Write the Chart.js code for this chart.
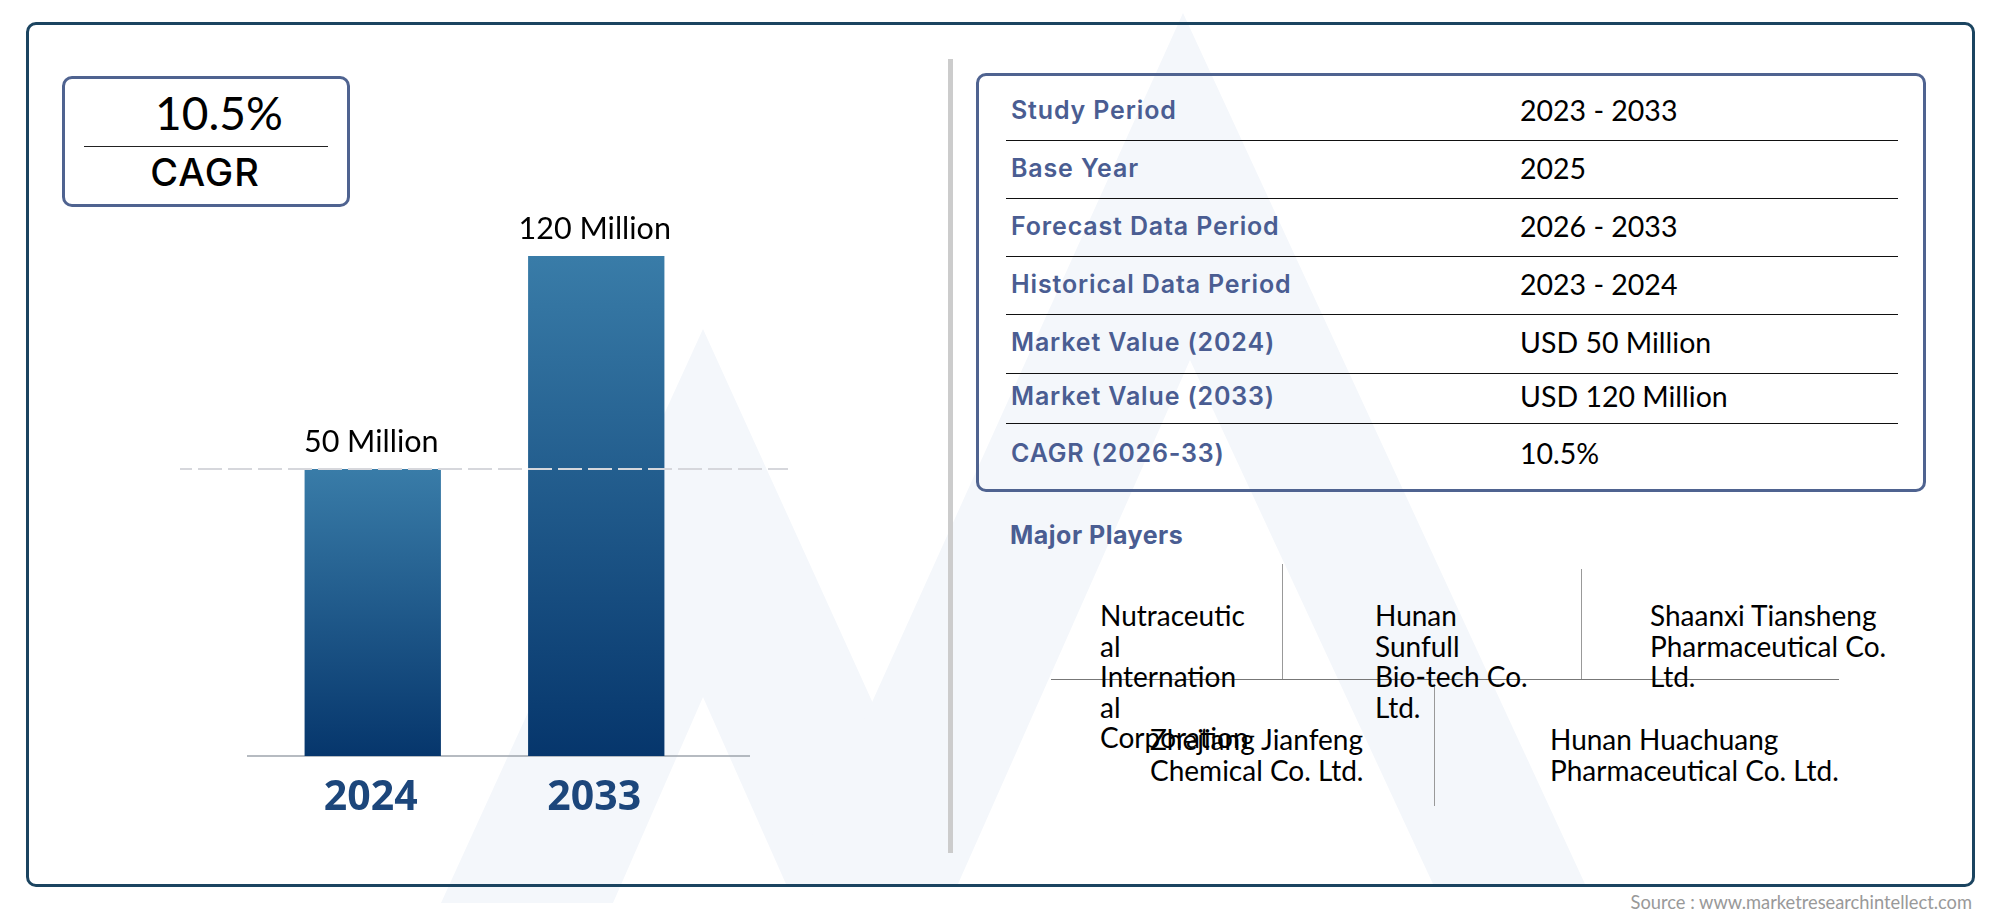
<!DOCTYPE html>
<html>
<head>
<meta charset="utf-8">
<title>Market size</title>
<script src="https://cdn.jsdelivr.net/npm/chart.js@4"></script>
<style>
  html, body { margin: 0; padding: 0; width: 2000px; height: 917px; background: #fff; overflow: hidden; }
  body { position: relative; font-family: Lato, sans-serif; color: #000; }
  .abs { position: absolute; }
  #wm { left: 0; top: 0; }
  #frame { left: 26px; top: 22px; width: 1943px; height: 859px; border: 3px solid #1b4460; border-radius: 10px; }
  #cagrBox { left: 62px; top: 76px; width: 282px; height: 125px; border: 3px solid #4f6390; border-radius: 10px; }
  #cagrValue { left: 62px; width: 314px; top: 82px; text-align: center; font-size: 46px; line-height: 62px; }
  #cagrRule { left: 84px; top: 146px; width: 244px; height: 1px; background: #222; }
  #cagrLabel { left: 62px; width: 286px; top: 149px; text-align: center; font-family: Inter, sans-serif; font-weight: 500; font-size: 38px; letter-spacing: 1px; line-height: 46px; }
  #chartWrap { left: 150px; top: 180px; width: 700px; height: 646px; }
  #sep { left: 948px; top: 59px; width: 5px; height: 794px; background: #cccccc; }
  #tableBox { left: 976px; top: 73px; width: 944px; height: 413px; border: 3px solid #4f6390; border-radius: 10px; }
  #rows { left: 1006px; top: 83px; width: 892px; display: grid; grid-template-rows: 58px 58px 58px 58px 58.5px 50.5px 62px; }
  .row { display: flex; align-items: center; border-bottom: 1px solid #111; box-sizing: border-box; }
  .row:last-child { border-bottom: none; }
  .row .k { width: 514px; padding-left: 5px; box-sizing: border-box; font-family: Inter, sans-serif; font-weight: 600; font-size: 25px; letter-spacing: 0.85px; color: #4a5d92; position: relative; top: -2px; }
  .row .v { font-size: 28.5px; position: relative; top: -2px; }
  #playersTitle { left: 1010px; top: 519px; font-family: Inter, sans-serif; font-weight: 700; font-size: 25px; letter-spacing: 0.5px; line-height: 32px; color: #4a5d92; }
  .hline { height: 1px; background: #777; }
  .vline { width: 1px; background: #999; }
  .player { font-size: 28px; line-height: 30.6px; white-space: pre-line; }
  #source { right: 28px; top: 890px; font-size: 18.3px; line-height: 24px; color: #999; }
</style>
</head>
<body>
<svg id="wm" class="abs" width="2000" height="917">
  <path fill="#f4f7fb" d="M703 329 L441 903 L613 903 L703 697 L786 884 L955 884 Z"/>
  <path fill="#f4f7fb" d="M1183 13 L790 884 L958 884 L1190 360 L1433 884 L1585 884 Z"/>
</svg>
<div id="frame" class="abs"></div>
<div id="cagrBox" class="abs"></div>
<div id="cagrValue" class="abs"></div>
<div id="cagrRule" class="abs"></div>
<div id="cagrLabel" class="abs"></div>
<div id="chartWrap" class="abs"><canvas id="marketChart"></canvas></div>
<div id="sep" class="abs"></div>
<div id="tableBox" class="abs"></div>
<div id="rows" class="abs"></div>
<div id="playersTitle" class="abs"></div>
<div class="abs hline" style="left:1051px;top:679px;width:788px"></div>
<div class="abs vline" style="left:1282px;top:564px;height:115px"></div>
<div class="abs vline" style="left:1581px;top:569px;height:110px"></div>
<div class="abs vline" style="left:1434px;top:685px;height:121px"></div>
<div class="abs player" id="p0" style="left:1100px;top:600px"></div>
<div class="abs player" id="p1" style="left:1375px;top:600px"></div>
<div class="abs player" id="p2" style="left:1650px;top:600px"></div>
<div class="abs player" id="p3" style="left:1150px;top:724px"></div>
<div class="abs player" id="p4" style="left:1550px;top:724px"></div>
<div id="source" class="abs"></div>

<script>
// Data
const years = ['2024', '2033'];
const marketValues = [50, 120];
const valueLabels = ['50 Million', '120 Million'];
const cagrValue = '10.5%';
const cagrLabel = 'CAGR';
const rowNames = ['Study Period', 'Base Year', 'Forecast Data Period', 'Historical Data Period', 'Market Value (2024)', 'Market Value (2033)', 'CAGR (2026-33)'];
const rowValues = ['2023 - 2033', '2025', '2026 - 2033', '2023 - 2024', 'USD 50 Million', 'USD 120 Million', '10.5%'];
const playersTitle = 'Major Players';
const players = [
  'Nutraceutic\nal\nInternation\nal\nCorporation',
  'Hunan\nSunfull\nBio-tech Co.\nLtd.',
  'Shaanxi Tiansheng\nPharmaceutical Co.\nLtd.',
  'Zhejiang Jianfeng\nChemical Co. Ltd.',
  'Hunan Huachuang\nPharmaceutical Co. Ltd.'
];
const sourceText = 'Source : www.marketresearchintellect.com';

// The bars in the picture are not drawn from zero: this is where the baseline sits
const axisFloor = -44.3;
const axisTop = 140;

document.getElementById('cagrValue').textContent = cagrValue;
document.getElementById('cagrLabel').textContent = cagrLabel;
document.getElementById('playersTitle').textContent = playersTitle;
document.getElementById('source').textContent = sourceText;

const rowsEl = document.getElementById('rows');
rowNames.forEach((name, i) => {
  const row = document.createElement('div');
  row.className = 'row';
  row.innerHTML = `<span class="k">${name}</span><span class="v">${rowValues[i]}</span>`;
  rowsEl.appendChild(row);
});

players.forEach((name, i) => {
  document.getElementById('p' + i).textContent = name;
});

// Each bar has its own top-to-bottom gradient
function barGradient(context) {
  const { chart, dataIndex } = context;
  const yScale = chart.scales.y;
  const fallback = '#1f5a8c';
  if (!yScale) return fallback;
  const top = yScale.getPixelForValue(marketValues[dataIndex]);
  const bottom = yScale.getPixelForValue(axisFloor);
  // scale has no size yet on the first pass
  if (!Number.isFinite(top) || !Number.isFinite(bottom)) return fallback;
  const g = chart.ctx.createLinearGradient(0, top, 0, bottom);
  g.addColorStop(0, '#397ca8');
  g.addColorStop(1, '#06366c');
  return g;
}

// Baseline, dashed reference line at the 2024 value and the labels above the bars
const barDecor = {
  id: 'barDecor',
  beforeDatasetsDraw(chart) {
    const { ctx, chartArea, scales } = chart;
    const y = scales.y.getPixelForValue(axisFloor);
    ctx.save();
    ctx.strokeStyle = '#9ea5ad';
    ctx.lineWidth = 1.5;
    ctx.beginPath();
    ctx.moveTo(chartArea.left - 14, y);
    ctx.lineTo(chartArea.right + 42, y);
    ctx.stroke();
    ctx.restore();
  },
  afterDatasetsDraw(chart) {
    const { ctx, chartArea, scales } = chart;
    const y = Math.round(scales.y.getPixelForValue(marketValues[0]));
    ctx.save();
    ctx.strokeStyle = '#d6d7dc';
    ctx.lineWidth = 2;
    ctx.setLineDash([24, 6]);
    ctx.lineDashOffset = 12;
    ctx.beginPath();
    ctx.moveTo(chartArea.left - 81, y);
    ctx.lineTo(chartArea.right + 80, y);
    ctx.stroke();
    ctx.setLineDash([]);
    ctx.fillStyle = '#000';
    ctx.font = '400 30.5px Lato, sans-serif';
    ctx.textAlign = 'center';
    ctx.textBaseline = 'alphabetic';
    chart.getDatasetMeta(0).data.forEach((bar, i) => {
      ctx.fillText(valueLabels[i], bar.x - 1.5, bar.y - 17);
    });
    ctx.restore();
  }
};

new Chart(document.getElementById('marketChart'), {
  type: 'bar',
  data: {
    labels: years,
    datasets: [{
      data: marketValues,
      base: axisFloor,
      backgroundColor: barGradient,
      borderWidth: 0,
      categoryPercentage: 1,
      barPercentage: 0.61
    }]
  },
  options: {
    responsive: true,
    maintainAspectRatio: false,
    animation: false,
    layout: { padding: { left: 111, right: 142, top: 15, bottom: 0 } },
    plugins: { legend: { display: false }, tooltip: { enabled: false } },
    scales: {
      x: {
        grid: { display: false },
        border: { display: false },
        ticks: {
          color: '#1c467b',
          padding: 10,
          labelOffset: -2,
          maxRotation: 0,
          font: { family: '"Open Sans", sans-serif', weight: '700', size: 41 }
        },
        afterFit: (scale) => { scale.height = 70; }
      },
      y: { display: false, min: axisFloor, max: axisTop }
    }
  },
  plugins: [barDecor]
});
</script>
</body>
</html>
